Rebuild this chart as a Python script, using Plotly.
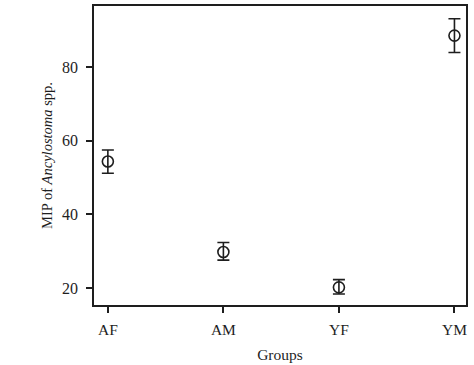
import plotly.graph_objects as go

groups = ["AF", "AM", "YF", "YM"]
mip = [54.4, 29.8, 20.2, 88.6]
upper = [57.5, 32.4, 22.3, 93.2]
lower = [51.2, 27.6, 18.4, 84.0]
yticks = [20, 40, 60, 80]

xpos = list(range(len(groups)))
err_plus = [u - m for u, m in zip(upper, mip)]
err_minus = [m - l for m, l in zip(mip, lower)]

ink = "#1e1e1e"
font_family = "Liberation Serif, Times New Roman, serif"

fig = go.Figure()
fig.add_trace(go.Scatter(
    x=xpos, y=mip, mode="markers",
    marker=dict(symbol="circle-open", size=11, color=ink, line=dict(width=1.6, color=ink)),
    error_y=dict(type="data", symmetric=False, array=err_plus, arrayminus=err_minus,
                 color=ink, thickness=1.6, width=6),
    showlegend=False,
))

fig.update_layout(
    width=474, height=365,
    margin=dict(l=94, r=8, t=4, b=60),
    paper_bgcolor="white", plot_bgcolor="white",
    font=dict(family=font_family, size=15, color=ink),
    xaxis=dict(
        range=[-0.12, 3.10], tickmode="array", tickvals=xpos, ticktext=groups,
        showline=True, mirror=True, linecolor=ink, linewidth=1.6,
        ticks="outside", ticklen=6, tickwidth=1.6, tickcolor=ink,
        showgrid=False, zeroline=False, ticklabelstandoff=4,
        tickfont=dict(size=15.5),
        title=dict(text="Groups", font=dict(size=15.5), standoff=12),
    ),
    yaxis=dict(
        range=[15.4, 96.65], tickmode="array", tickvals=yticks,
        showline=True, mirror=True, linecolor=ink, linewidth=1.6,
        ticks="outside", ticklen=6, tickwidth=1.6, tickcolor=ink,
        showgrid=False, zeroline=False, ticklabelstandoff=5,
        tickfont=dict(size=16),
        title=dict(text="MIP of <i>Ancylostoma</i> spp.", font=dict(size=14.5), standoff=6),
    ),
)

fig.write_html("out.html", config={"displayModeBar": False},
               post_script="document.body.style.margin='0';")
